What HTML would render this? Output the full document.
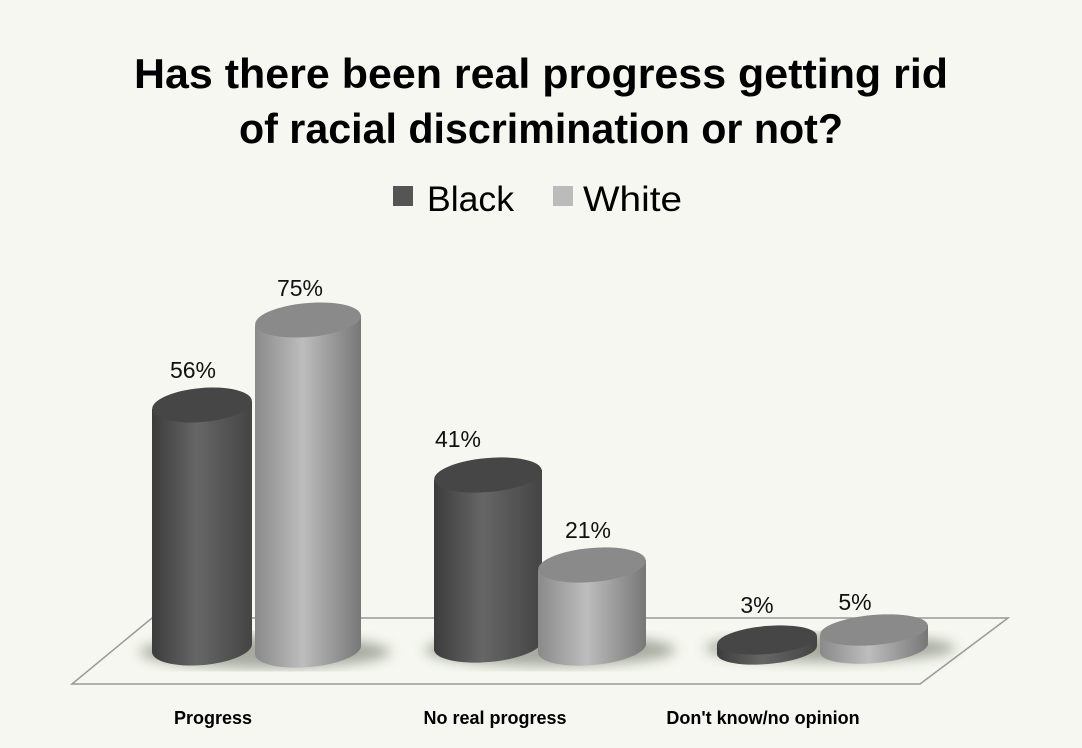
<!DOCTYPE html>
<html><head><meta charset="utf-8"><style>
body{margin:0;background:#f5f7f0;}
svg{display:block;font-family:"Liberation Sans",sans-serif;}
</style></head><body>
<svg width="1082" height="748" viewBox="0 0 1082 748">
<defs>
<linearGradient id="gb" x1="0" x2="1"><stop offset="0" stop-color="#3c3c3c"/><stop offset="0.45" stop-color="#666"/><stop offset="1" stop-color="#444"/></linearGradient>
<linearGradient id="gw" x1="0" x2="1"><stop offset="0" stop-color="#8a8a8a"/><stop offset="0.45" stop-color="#bdbdbd"/><stop offset="1" stop-color="#777"/></linearGradient>
<filter id="bl"><feGaussianBlur stdDeviation="6"/></filter>
</defs>
<rect width="1082" height="748" fill="#f5f7f0"/>
<text x="541" y="88" font-size="42" font-weight="bold" text-anchor="middle" textLength="814" lengthAdjust="spacingAndGlyphs">Has there been real progress getting rid</text>
<text x="541" y="143" font-size="42" font-weight="bold" text-anchor="middle" textLength="604" lengthAdjust="spacingAndGlyphs">of racial discrimination or not?</text>
<rect x="393" y="186" width="20" height="20" fill="#555"/>
<text x="427" y="211" font-size="35" textLength="87" lengthAdjust="spacingAndGlyphs">Black</text>
<rect x="553" y="186" width="20" height="20" fill="#bbb"/>
<text x="583" y="211" font-size="35" textLength="99" lengthAdjust="spacingAndGlyphs">White</text>
<polygon points="72,684 920,684 1008,618 152,618" fill="none" stroke="#999" stroke-width="1.5"/>
<g fill="#5c6050" opacity="0.5" filter="url(#bl)">
<ellipse cx="265" cy="652" rx="125" ry="16"/>
<ellipse cx="550" cy="650" rx="125" ry="16"/>
<ellipse cx="830" cy="648" rx="125" ry="14"/>
</g>
<g>
<path d="M152,409 L152,652 A50 17 -5 0 0 252,644 L252,401 Z" fill="url(#gb)"/>
<ellipse cx="202" cy="405" rx="50" ry="17" transform="rotate(-5 202 405)" fill="#464646"/>
<path d="M255,325 L255,655 A53 17 -5 0 0 361,645 L361,315 Z" fill="url(#gw)"/>
<ellipse cx="308" cy="320" rx="53" ry="17" transform="rotate(-5 308 320)" fill="#8a8a8a"/>
<path d="M434,480 L434,650 A54 17 -5 0 0 542,640 L542,470 Z" fill="url(#gb)"/>
<ellipse cx="488" cy="475" rx="54" ry="17" transform="rotate(-5 488 475)" fill="#464646"/>
<path d="M538,570 L538,653 A54 17 -5 0 0 646,643 L646,560 Z" fill="url(#gw)"/>
<ellipse cx="592" cy="565" rx="54" ry="17" transform="rotate(-5 592 565)" fill="#8a8a8a"/>
<path d="M717,644 L717,654 A50 14 -5 0 0 817,646 L817,636 Z" fill="url(#gb)"/>
<ellipse cx="767" cy="640" rx="50" ry="14" transform="rotate(-5 767 640)" fill="#464646"/>
<path d="M820,635 L820,653 A54 15 -5 0 0 928,643 L928,625 Z" fill="url(#gw)"/>
<ellipse cx="874" cy="630" rx="54" ry="15" transform="rotate(-5 874 630)" fill="#8a8a8a"/>
</g>
<g font-size="23" text-anchor="middle" fill="#111">
<text x="193" y="378">56%</text>
<text x="300" y="296">75%</text>
<text x="458" y="447">41%</text>
<text x="588" y="538">21%</text>
<text x="757" y="613">3%</text>
<text x="855" y="610">5%</text>
</g>
<g font-size="18" font-weight="bold" text-anchor="middle">
<text x="213" y="724">Progress</text>
<text x="495" y="724">No real progress</text>
<text x="763" y="724">Don't know/no opinion</text>
</g>
</svg>
</body></html>
